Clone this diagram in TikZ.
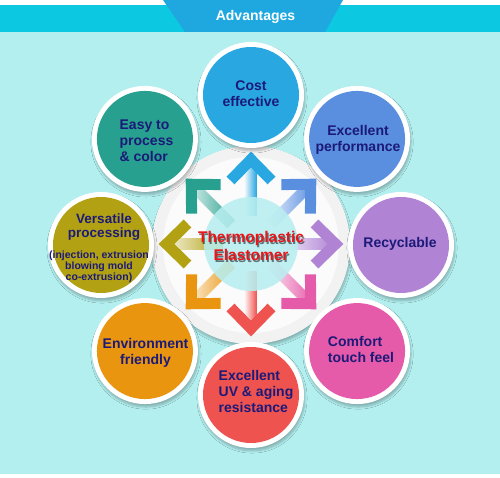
\documentclass[tikz,border=0pt]{standalone}
\usepackage{fontspec}
\setmainfont{Liberation Sans}
\usetikzlibrary{shadows.blur,calc}
\definecolor{bgc}{HTML}{B3EFEF}
\definecolor{bandc}{HTML}{0CC8E0}
\definecolor{tabc}{HTML}{1FA8E0}
\definecolor{txtc}{HTML}{1C1A78}
\definecolor{cost}{HTML}{29A7E1}
\definecolor{perf}{HTML}{5A8FE0}
\definecolor{recy}{HTML}{B083D4}
\definecolor{comf}{HTML}{E55BA9}
\definecolor{uvc}{HTML}{EF5350}
\definecolor{envc}{HTML}{E9950F}
\definecolor{vers}{HTML}{B2A213}
\definecolor{easy}{HTML}{27A08F}
\definecolor{innerc}{HTML}{B8EEF0}
\definecolor{tpe}{HTML}{E8161B}
\tikzset{
  ringbox/.style={circle, fill=white, minimum size=106pt, inner sep=0pt,
    blur shadow={shadow xshift=1pt, shadow yshift=-3pt, shadow blur steps=6, shadow opacity=25}},
  fillbox/.style={circle, fill=#1, minimum size=96pt, inner sep=0pt},
  lbl/.style={font=\bfseries\fontsize{14}{16}\selectfont, text=txtc, inner sep=0pt},
}
\begin{document}
\begin{tikzpicture}[x=1pt,y=1pt]
\useasboundingbox (0,0) rectangle (500,478);
% background
\fill[white] (0,0) rectangle (500,478);
\fill[bgc] (0,4) rectangle (500,446);
\fill[bandc] (0,446) rectangle (500,473);
\fill[tabc] (163,478) -- (343,478) -- (325,446) -- (185,446) -- cycle;
\node[font=\bfseries\fontsize{14}{16}\selectfont, text=white] (title) at (255.5,461) {Advantages};
% central white circle
\coordinate (C) at (251,233);
\coordinate (A) at (251,234);
\node[circle, fill=white!95!black, minimum size=198pt, inner sep=0pt,
  blur shadow={shadow xshift=1pt, shadow yshift=-3pt, shadow blur steps=8, shadow opacity=25}] (big) at (C) {};
\node[circle, fill=white, minimum size=176pt, inner sep=0pt, opacity=0.7] (bigin) at (C) {};
% arrows
\foreach \a/\c in {90/cost,45/perf,0/recy,-45/comf,-90/uvc,-135/envc,180/vers,135/easy} {
  \begin{scope}[shift={(A)}, rotate=\a]
    \shade[left color=\c!15!white, right color=\c] (28,-5.5) rectangle (84,5.5);
    \draw[\c, line width=11pt, miter limit=10] (63.5,20.5) -- (84.5,0) -- (63.5,-20.5);
  \end{scope}
}
\node[circle, fill=innerc, minimum size=94pt, inner sep=0pt, opacity=0.88] (inner) at (A) {};
% centre text
\node[font=\bfseries\fontsize{15.5}{18}\selectfont, text=black, opacity=0.5, align=center] (tpesh) at ($(A)+(1.2,-3.5)$) {Thermoplastic\\Elastomer};
\node[font=\bfseries\fontsize{15.5}{18}\selectfont, text=tpe, align=center] (tpe) at ($(A)+(0,-2)$) {Thermoplastic\\Elastomer};
% outer circles
\foreach \a/\c/\n in {90/cost/1,45/perf/2,0/recy/3,-45/comf/4,-90/uvc/5,-135/envc/6,180/vers/7,135/easy/8} {
  \node[ringbox] (o\n) at ($(C)+(\a:150)$) {};
  \node[fillbox=\c] (c\n) at (o\n) {};
}
% labels
\node[lbl, align=center] (t1) at (251,384) {Cost\\effective};
\node[lbl, align=center] (t2) at (358,338) {Excellent\\performance};
\node[lbl, align=center] (t3) at (400,234) {Recyclable};
\node[lbl, align=left] (t4) at (361,128) {Comfort\\touch feel};
\node[lbl, align=left] (t5) at (256,87) {Excellent\\UV \& aging\\resistance};
\node[lbl, align=center] (t6) at (145.5,125) {Environment\\friendly};
\node[lbl, align=center, font=\bfseries\fontsize{13.5}{14.5}\selectfont] (t7) at (104,251) {Versatile\\processing};
\node[lbl, align=center, font=\bfseries\fontsize{10.5}{11}\selectfont] (t7b) at (99,211) {(injection, extrusion\\blowing mold\\co-extrusion)};
\node[lbl, align=left] (t8) at (146.5,337) {Easy to\\process\\\& color};
\end{tikzpicture}
\end{document}
